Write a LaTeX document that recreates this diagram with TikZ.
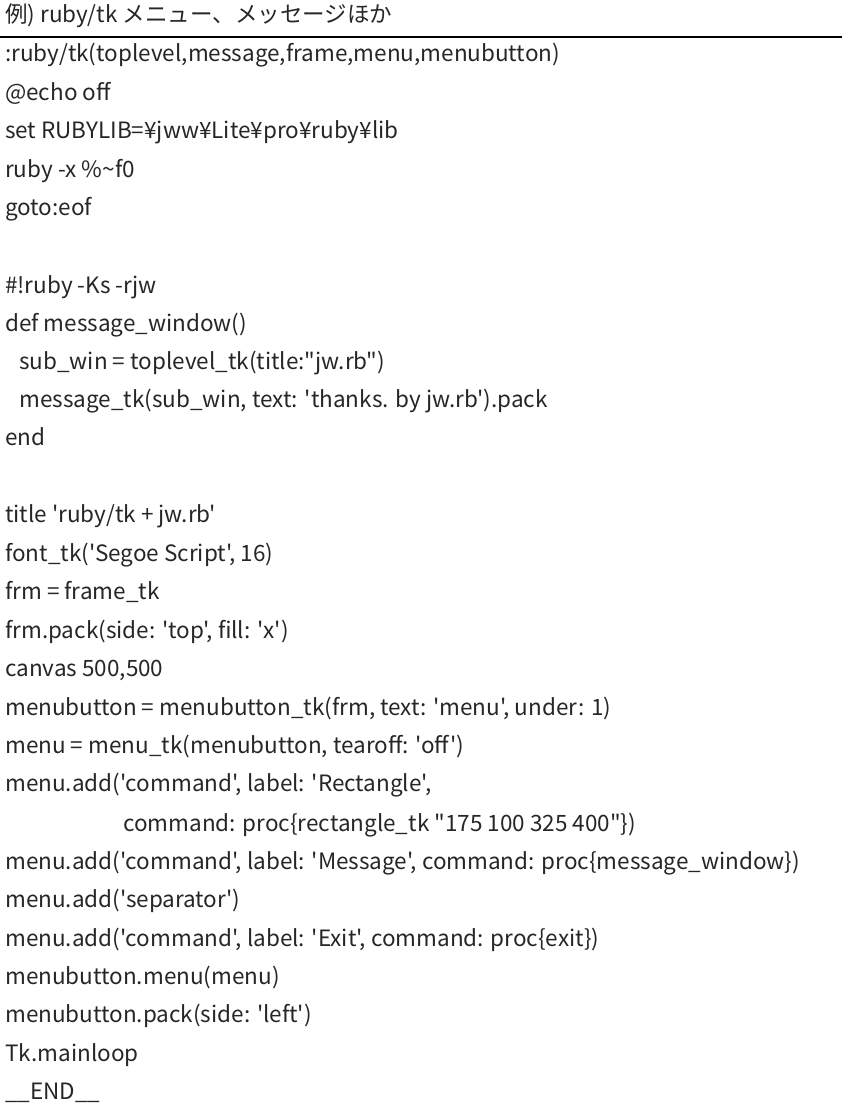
\documentclass[tikz,border=0pt]{standalone}
\usepackage{fontspec}
\newfontfamily\jp{Noto Sans CJK JP}
\begin{document}
\begin{tikzpicture}[x=1pt,y=-1pt,
  ln/.style={anchor=west,inner sep=0pt,text height=16pt,text depth=5pt,font=\jp\fontsize{22.5}{26}\selectfont,text=black!85}]
\useasboundingbox (0,0) rectangle (844,1109);
\node[ln] (t) at (5,17) {例) ruby/tk メニュー、メッセージほか};
\draw[line width=1.2pt] (0,37) -- (842,37);
\node[ln] (l1) at (5,56) {:ruby/tk(toplevel,message,frame,menu,menubutton)};
\node[ln] (l2) at (5,95) {@echo off};
\node[ln] (l3) at (5,133) {set RUBYLIB=¥jww¥Lite¥pro¥ruby¥lib};
\node[ln] (l4) at (5,172) {ruby -x \%\textasciitilde f0};
\node[ln] (l5) at (5,210) {goto:eof};
\node[ln] (l6) at (5,288) {\#!ruby -Ks -rjw};
\node[ln] (l7) at (5,326) {def message\_window()};
\node[ln] (l8) at (19,364) {sub\_win = toplevel\_tk(title:"jw.rb")};
\node[ln] (l9) at (19,402) {message\_tk(sub\_win, text: 'thanks. by jw.rb').pack};
\node[ln] (l10) at (5,440) {end};
\node[ln] (l11) at (5,517) {title 'ruby/tk + jw.rb'};
\node[ln] (l12) at (5,556) {font\_tk('Segoe Script', 16)};
\node[ln] (l13) at (5,594) {frm = frame\_tk};
\node[ln] (l14) at (5,633) {frm.pack(side: 'top', fill: 'x')};
\node[ln] (l15) at (5,671) {canvas 500,500};
\node[ln] (l16) at (5,710) {menubutton = menubutton\_tk(frm, text: 'menu', under: 1)};
\node[ln] (l17) at (5,748) {menu = menu\_tk(menubutton, tearoff: 'off')};
\node[ln] (l18) at (5,786) {menu.add('command', label: 'Rectangle',};
\node[ln] (l19) at (123,826) {command: proc\{rectangle\_tk "175 100 325 400"\})};
\node[ln] (l20) at (5,864) {menu.add('command', label: 'Message', command: proc\{message\_window\})};
\node[ln] (l21) at (5,902) {menu.add('separator')};
\node[ln] (l22) at (5,941) {menu.add('command', label: 'Exit', command: proc\{exit\})};
\node[ln] (l23) at (5,979) {menubutton.menu(menu)};
\node[ln] (l24) at (5,1017) {menubutton.pack(side: 'left')};
\node[ln] (l25) at (5,1056) {Tk.mainloop};
\node[ln] (l26) at (5,1094) {\_\_END\_\_};
\end{tikzpicture}
\end{document}
